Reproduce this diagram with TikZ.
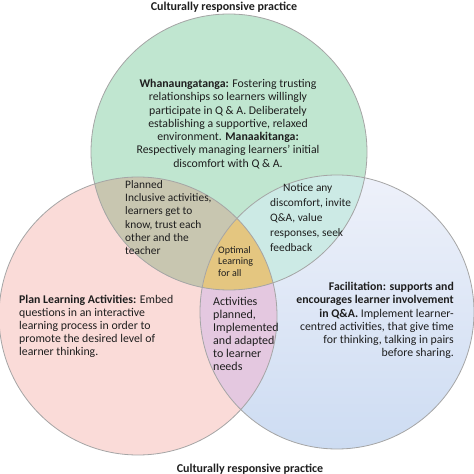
\documentclass[tikz,border=0pt]{standalone}
\usepackage{fontspec}
\setmainfont{Carlito}
\definecolor{greenfill}{RGB}{192,230,208}
\definecolor{pinkfill}{RGB}{250,219,216}
\definecolor{bluetop}{RGB}{238,241,250}
\definecolor{bluebot}{RGB}{205,220,242}
\definecolor{olivefill}{RGB}{200,198,176}
\definecolor{tealfill}{RGB}{204,234,229}
\definecolor{lavfill}{RGB}{228,200,224}
\definecolor{yelfill}{RGB}{228,198,128}
\definecolor{ringcol}{RGB}{165,165,165}
\definecolor{inkcol}{RGB}{30,30,30}
\begin{document}
\begin{tikzpicture}[x=1pt,y=1pt,
  ring/.style={draw=ringcol,line width=0.8pt},
  bodytext/.style={inner sep=0pt,text=inkcol,font=\fontsize{11.8}{13.3}\selectfont},
  lenstext/.style={inner sep=0pt,text=inkcol,font=\fontsize{11.4}{13.3}\selectfont},
  smalltext/.style={inner sep=0pt,text=inkcol,font=\fontsize{10}{11.7}\selectfont},
  titletext/.style={inner sep=0pt,text=inkcol,font=\bfseries\fontsize{12}{13}\selectfont}]
\useasboundingbox (0,0) rectangle (474,474);
\def\greenc{(229,322) circle[radius=138pt]}
\def\pinkc{(138,158) circle[radius=139pt]}
\def\bluec{(337,162) circle[radius=137pt]}
\fill[pinkfill] \pinkc;
\shade[top color=bluetop,bottom color=bluebot] \bluec;
\fill[greenfill] \greenc;
\begin{scope}\clip \pinkc; \fill[olivefill] \greenc; \end{scope}
\begin{scope}\clip \bluec; \fill[tealfill] \greenc; \end{scope}
\begin{scope}\clip \pinkc; \fill[lavfill] \bluec; \end{scope}
\begin{scope}\clip \pinkc; \clip \bluec; \fill[yelfill] \greenc; \end{scope}
\draw[ring] \pinkc;
\draw[ring] \bluec;
\draw[ring] \greenc;

\node[titletext] (toptitle) at (224,467) {Culturally responsive practice};
\node[titletext] (bottitle) at (250,5) {Culturally responsive practice};

\node[bodytext,align=center,anchor=north] (greentext) at (228,395)
 {\textbf{Whanaungatanga:} Fostering trusting\\relationships so learners willingly\\participate in Q \& A. Deliberately\\establishing a supportive, relaxed\\environment. \textbf{Manaakitanga:}\\Respectively managing learners' initial\\discomfort with Q \& A.};

\node[lenstext,align=left,anchor=north west] (olivetext) at (125,294)
 {Planned\\Inclusive activities,\\learners get to\\know, trust each\\other and the\\teacher};

\node[lenstext,font=\fontsize{11.4}{15.2}\selectfont,align=left,anchor=north west] (tealtext) at (270,291)
 {\hspace*{13pt}Notice any\\discomfort, invite\\Q\&A, value\\responses, seek\\feedback};

\node[smalltext,align=left,anchor=north west] (yeltext) at (218,228)
 {Optimal\\Learning\\for all};

\node[lenstext,font=\fontsize{12}{13}\selectfont,align=left,anchor=north west] (lavtext) at (213,177)
 {Activities\\planned,\\Implemented\\and adapted\\to learner\\needs};

\node[bodytext,font=\fontsize{11.8}{13}\selectfont,align=left,anchor=north west] (pinktext) at (19,179)
 {\textbf{Plan Learning Activities:} Embed\\questions in an interactive\\learning process in order to\\promote the desired level of\\learner thinking.};

\node[bodytext,align=right,anchor=north east] (bluetext) at (454,192)
 {\textbf{Facilitation: supports and}\\\textbf{encourages learner involvement}\\\textbf{in Q\&A.} Implement learner-\\centred activities, that give time\\for thinking, talking in pairs\\before sharing.};
\end{tikzpicture}
\end{document}
